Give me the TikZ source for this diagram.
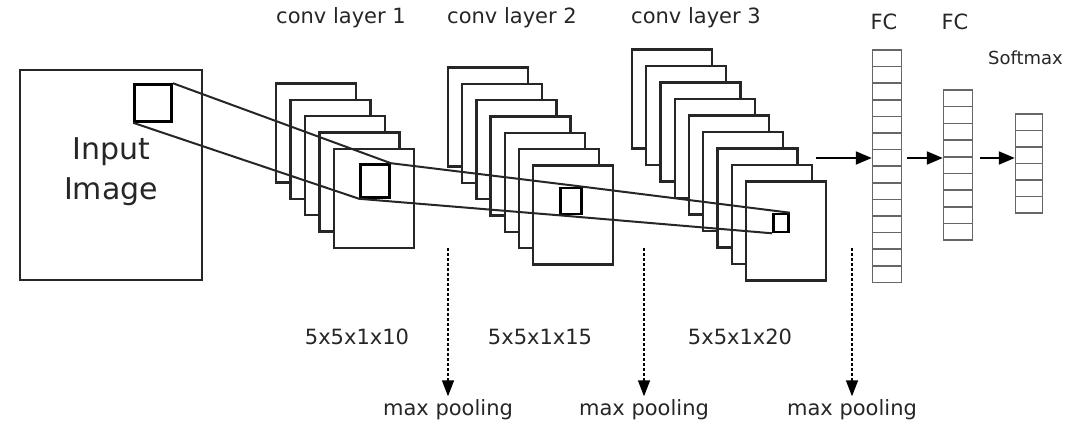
\documentclass[tikz,border=0pt]{standalone}
\usepackage{fontspec}
\setmainfont{DejaVu Sans}
\usetikzlibrary{positioning}
\usetikzlibrary{arrows.meta}
\tikzset{
  frame/.style = {draw=black!85, fill=white, line width=2.4pt, minimum width=80pt, minimum height=99pt, inner sep=0pt},
  patch/.style = {draw, line width=2.6pt, inner sep=0pt},
  cell/.style = {draw=black!60, line width=1.5pt, minimum width=29pt, minimum height=16.6pt, inner sep=0pt},
  lbl/.style = {font=\fontsize{21}{24}\selectfont, text=black!85},
  pool/.style = {dash pattern=on 2.5pt off 2.5pt, line width=1.5pt, -{Triangle[length=16pt,width=12pt]}},
  flow/.style = {line width=2pt, -{Triangle[length=16pt,width=13pt]}}
}
\begin{document}
\begin{tikzpicture}[x=1pt, y=-1pt]
        \useasboundingbox (0,0) rectangle (1065,447);
        \node[draw=black!85, line width=2.6pt, minimum width=182pt, minimum height=210pt, inner sep=0pt] (img) at (111,175) {};
        \node[font=\fontsize{30}{40}\selectfont, text=black!85, align=center] (imgtxt) at (111,172) {Input\\Image};
        \node[patch, minimum size=37pt] (p0) at (153,103) {};
        % conv layers
        \foreach \i in {0,...,4} \node[frame] (a\i) at (316+14.5*\i,133+16.3*\i) {};
        \foreach \i in {0,...,6} \node[frame] (b\i) at (488+14.2*\i,117+16.3*\i) {};
        \foreach \i in {0,...,8} \node[frame] (c\i) at (672+14.25*\i,99+16.5*\i) {};
        \node[patch, minimum width=29pt, minimum height=33pt] (p1) at (375,181) {};
        \node[patch, minimum width=21pt, minimum height=26pt] (p2) at (571,201) {};
        \node[patch, minimum width=15pt, minimum height=18pt] (p3) at (781,223) {};
        \draw[line width=2pt, black!85] (p0.north east) -- (p1.north east) -- (p2.north east) -- (p3.north east);
        \draw[line width=2pt, black!85] (p0.south west) -- (p1.south west) -- (p2.south west) -- (p3.south west);
        \node[lbl] (t1) at (341,18) {conv layer 1};
        \node[lbl] (t2) at (512,18) {conv layer 2};
        \node[lbl] (t3) at (696,18) {conv layer 3};
        \node[lbl] (k1) at (357,337) {5x5x1x10};
        \node[lbl] (k2) at (540,337) {5x5x1x15};
        \node[lbl] (k3) at (740,337) {5x5x1x20};
        % max pooling
        \foreach \n/\x in {1/448,2/644,3/852} {
          \coordinate (s\n) at (\x,248);
          \node[lbl] (m\n) at (\x,410) {max pooling};
          \draw[pool] (s\n) -- (m\n.north);
        }
        % fully connected
        \foreach \i in {0,...,13} \node[cell] (f\i) at (887,58.3+16.6*\i) {};
        \foreach \i in {0,...,8} \node[cell] (g\i) at (958,98.3+16.7*\i) {};
        \foreach \i in {0,...,5} \node[cell, minimum width=27pt] (h\i) at (1029,122.3+16.5*\i) {};
        \node[lbl] (fc1) at (884,22) {FC};
        \node[lbl] (fc2) at (955,22) {FC};
        \node[lbl, font=\fontsize{18}{21}\selectfont, anchor=east, inner sep=1pt] (sm) at (1064,58) {Softmax};
        \coordinate (q0) at (816,158);
        \draw[flow] (q0) -- (f6.west |- q0);
        \draw[flow] (f6.east |- q0) ++(5,0) -- (g3.west |- q0);
        \draw[flow] (g3.east |- q0) ++(7,0) -- (h2.west |- q0);
\end{tikzpicture}
\end{document}
